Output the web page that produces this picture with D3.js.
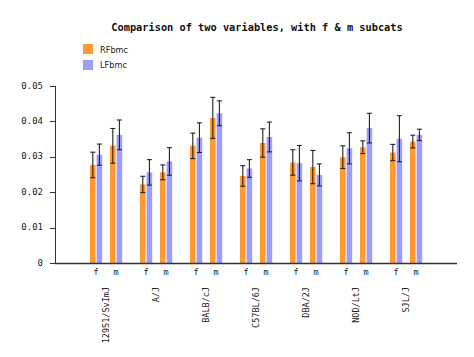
<!DOCTYPE html>
<html>
<head>
<meta charset="utf-8">
<script src="https://cdn.jsdelivr.net/npm/d3@7/dist/d3.min.js"></script>
<style>
  html, body { margin: 0; padding: 0; background: #fff; }
  svg { display: block; }
</style>
</head>
<body>
<svg id="chart" width="474" height="357"></svg>
<script>
const strains = ["129S1/SvImJ", "A/J", "BALB/cJ", "C57BL/6J", "DBA/2J", "NOD/LtJ", "SJL/J"];
const sexes = ["f", "m"];
const seriesNames = ["RFbmc", "LFbmc"];
// values per strain: [f, m]
const rfMean = [[0.0277, 0.0331], [0.0222, 0.0256], [0.0331, 0.0410], [0.0246, 0.0339], [0.0284, 0.0271], [0.0299, 0.0327], [0.0312, 0.0343]];
const rfErr  = [[0.0036, 0.0049], [0.0023, 0.0021], [0.0036, 0.0058], [0.0029, 0.0040], [0.0036, 0.0047], [0.0032, 0.0018], [0.0023, 0.0018]];
const lfMean = [[0.0306, 0.0362], [0.0256, 0.0287], [0.0354, 0.0423], [0.0267, 0.0356], [0.0282, 0.0249], [0.0324, 0.0381], [0.0351, 0.0362]];
const lfErr  = [[0.0030, 0.0042], [0.0036, 0.0039], [0.0042, 0.0035], [0.0025, 0.0042], [0.0050, 0.0031], [0.0044, 0.0042], [0.0065, 0.0016]];
const yTicks = [0, 0.01, 0.02, 0.03, 0.04, 0.05];
const yTickLabels = ["0", "0.01", "0.02", "0.03", "0.04", "0.05"];
const title = "Comparison of two variables, with f & m subcats";

const colors = ["#ff9a2e", "#9d9dfb"];
const svg = d3.select("#chart");

const y = d3.scaleLinear().domain([0, 0.05]).range([263, 86]);
const xGroup = d3.scaleBand().domain(strains).range([76, 426]);
const xSex = d3.scaleBand().domain(sexes).range([10, 50]);
const bw = 5.6;

// title
svg.append("text").attr("x", 257).attr("y", 31).attr("text-anchor", "middle")
  .attr("font-family", "DejaVu Sans Mono").attr("font-weight", "bold").attr("font-size", 10.3)
  .attr("fill", "#111").text(title);

// legend
seriesNames.forEach((n, i) => {
  svg.append("rect").attr("x", 83).attr("y", 44 + i * 16).attr("width", 10).attr("height", 10).attr("fill", colors[i]);
  svg.append("text").attr("x", 100).attr("y", 50 + i * 15.5).attr("dominant-baseline", "middle")
    .attr("font-family", "DejaVu Sans").attr("font-size", 8.2).attr("fill", "#222").text(n);
});

// y axis
svg.append("line").attr("x1", 55.5).attr("x2", 55.5).attr("y1", y(0.05)).attr("y2", y(0)).attr("stroke", "#333");
yTicks.forEach((t, i) => {
  svg.append("line").attr("x1", 50).attr("x2", 55.5).attr("y1", Math.round(y(t)) + 0.5).attr("y2", Math.round(y(t)) + 0.5).attr("stroke", "#333");
  svg.append("text").attr("x", 43).attr("y", y(t)).attr("text-anchor", "end").attr("dominant-baseline", "middle")
    .attr("font-family", "DejaVu Sans Mono").attr("font-size", 9).attr("fill", "#222").text(yTickLabels[i]);
});

// bars
const means = [rfMean, lfMean], errs = [rfErr, lfErr];
strains.forEach((s, gi) => {
  sexes.forEach((sx, si) => {
    const c = xGroup(s) + xSex(sx) + xSex.bandwidth() / 2;
    [0, 1].forEach(k => {
      const v = means[k][gi][si], e = errs[k][gi][si];
      const x0 = k === 0 ? c - 0.4 - bw : c + 0.6;
      svg.append("rect").attr("x", x0).attr("y", y(v)).attr("width", bw).attr("height", y(0) - y(v)).attr("fill", colors[k]);
      const cx = x0 + bw / 2;
      svg.append("line").attr("x1", cx).attr("x2", cx).attr("y1", y(v + e)).attr("y2", y(v - e)).attr("stroke", "#222").attr("stroke-width", 1.1);
      [v + e, v - e].forEach(vv => {
        svg.append("line").attr("x1", cx - 2.5).attr("x2", cx + 2.5).attr("y1", y(vv)).attr("y2", y(vv)).attr("stroke", "#222").attr("stroke-width", 1.1);
      });
    });
    svg.append("text").attr("x", c).attr("y", 272).attr("text-anchor", "middle").attr("dominant-baseline", "middle")
      .attr("font-family", "DejaVu Sans Mono").attr("font-size", 8.5).attr("fill", "#222").text(sx);
  });
  const gc = xGroup(s) + 30;
  svg.append("text").attr("transform", `translate(${gc},287) rotate(-90)`).attr("text-anchor", "end").attr("dominant-baseline", "middle")
    .attr("font-family", "DejaVu Sans Mono").attr("font-size", 8.5).attr("fill", "#222").text(s);
});

// x axis
svg.append("line").attr("x1", 55).attr("x2", 457).attr("y1", 263.5).attr("y2", 263.5).attr("stroke", "#333").attr("stroke-width", 1.3);
</script>
</body>
</html>
